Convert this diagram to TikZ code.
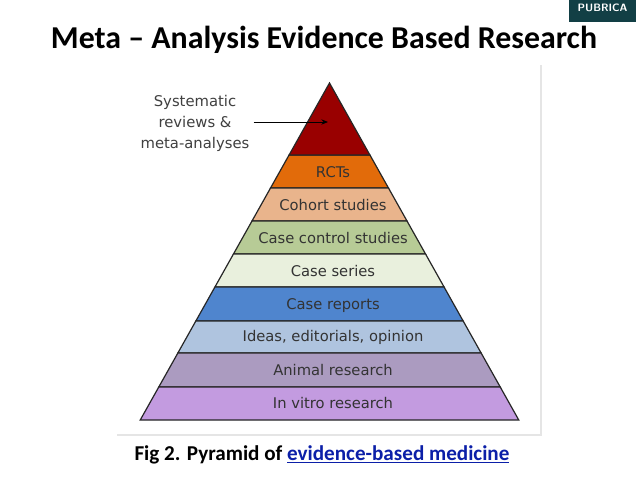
\documentclass[tikz,border=0pt]{standalone}
\usepackage{fontspec}
\setmainfont{Carlito}
\newfontfamily\pyrfont{DejaVu Sans}
\usepackage{xcolor}
\usetikzlibrary{arrows.meta,positioning,calc}
\definecolor{bandtop}{HTML}{990000}
\definecolor{bandrct}{HTML}{E26B0A}
\definecolor{bandcohort}{HTML}{E9B48C}
\definecolor{bandcontrol}{HTML}{B7CB96}
\definecolor{bandseries}{HTML}{E9F0DD}
\definecolor{bandreports}{HTML}{4F85CE}
\definecolor{bandideas}{HTML}{AFC4DF}
\definecolor{bandanimal}{HTML}{AB9BC0}
\definecolor{bandvitro}{HTML}{C39BE0}
\definecolor{logoteal}{HTML}{123F45}
\definecolor{linkblue}{HTML}{0B1FA8}

\begin{document}
\begin{tikzpicture}[
  x=0.75pt, y=-0.75pt,
  band/.style={draw=black!85, line width=0.9pt, line join=miter},
  lbl/.style={font=\pyrfont\fontsize{11.05}{12}\selectfont, text=black!80, inner sep=0pt,
              text height=8.5pt, text depth=1pt},
  side/.style={font=\pyrfont\fontsize{11.1}{15.7}\selectfont, text=black!75, align=center, inner sep=0pt},
  arr/.style={-{Stealth[length=5pt,width=4pt]}, line width=0.6pt, black},
  edgeln/.style={draw=black!10, line width=1pt}
]
\useasboundingbox (0,0) rectangle (638,479);
\fill[white] (0,0) rectangle (638,479);

% panel edge
\draw[edgeln] (541,65) -- (541,435) -- (117,435);

% pyramid layers
\foreach \ytop/\ybot/\col in {155/188/bandrct, 188/221/bandcohort, 221/254/bandcontrol,
    254/287/bandseries, 287/321/bandreports, 321/353/bandideas,
    353/387/bandanimal, 387/420/bandvitro}{
  \pgfmathsetmacro{\ht}{(\ytop-83)*0.5616}
  \pgfmathsetmacro{\hb}{(\ybot-83)*0.5616}
  \draw[band, fill=\col] (329.5-\ht,\ytop) -- (329.5+\ht,\ytop) -- (329.5+\hb,\ybot) -- (329.5-\hb,\ybot) -- cycle;
}
\draw[band, fill=bandtop] (329.5,83) -- (369.9,155) -- (289.1,155) -- cycle;

\node[lbl] (rct)    at (333,172) {RCTs};
\node[lbl] (cohort) at (333,205) {Cohort studies};
\node[lbl] (control) at (333,238) {Case control studies};
\node[lbl] (series) at (333,271) {Case series};
\node[lbl] (reports) at (333,304) {Case reports};
\node[lbl] (ideas)  at (333,336) {Ideas, editorials, opinion};
\node[lbl] (animal) at (333,370) {Animal research};
\node[lbl] (vitro)  at (333,403) {In vitro research};

\node[side] (sysrev) at (195,123.5) {Systematic\\reviews \&\\meta-analyses};
\coordinate (toptip) at (328,122);
\draw[arr] ($(sysrev.east)+(4,-1.5)$) -- (toptip);

% heading
\node[font=\bfseries\fontsize{23.9}{26}\selectfont, inner sep=0pt] (title) at (324,40) {Meta -- Analysis Evidence Based Research};
\node[font=\bfseries\fontsize{15.85}{18}\selectfont, inner sep=0pt] (caption) at (322,454.5)
  {Fig 2. Pyramid of \textcolor{linkblue}{\underline{evidence-based medicine}}};

% logo
\node[fill=logoteal, text=white, minimum width=50.25pt, minimum height=16.5pt, inner sep=0pt,
  text height=5.5pt, text depth=4.5pt,
  font=\sffamily\bfseries\fontsize{8}{9}\selectfont] (logo) at (602.5,11) {PUBRICA};
\end{tikzpicture}
\end{document}
